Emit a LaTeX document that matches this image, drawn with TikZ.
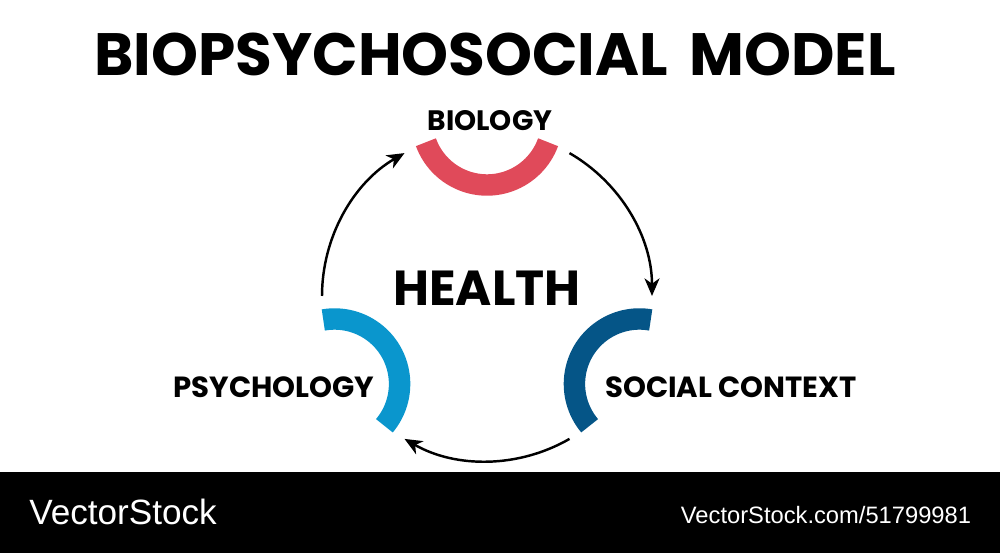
\documentclass[tikz,border=0pt]{standalone}
\usepackage{fontspec}
\setmainfont{Poppins}
\newfontfamily\stockfont{Liberation Sans}
\usetikzlibrary{arrows.meta}

\definecolor{biored}{RGB}{224,74,90}
\definecolor{psyblue}{RGB}{10,150,205}
\definecolor{socblue}{RGB}{5,85,135}

\begin{document}
\begin{tikzpicture}
[>={Stealth[length=10pt,width=8.5pt,inset=3pt]}, x=0.02cm, y=0.02cm,
 ring/.style={line width=12.2pt},
 link/.style={line width=1.4pt, ->},
 factor/.style={font=\bfseries\fontsize{16.6}{20}\selectfont}]

	\useasboundingbox (0,0) rectangle (1000,553);
	%\draw[gray,step=50] (0,0) grid (1000,553);
	\fill[black] (0,0) rectangle (1000,81);

	\coordinate (O) at (487,257);
	\coordinate (bio) at ([shift={(90:176)}]O);
	\coordinate (psy) at ([shift={(210:176)}]O);
	\coordinate (soc) at ([shift={(330:176)}]O);

	\draw[ring,biored] ([shift={(200:65)}]bio) arc[start angle=200,end angle=340,radius=65];
	\draw[ring,psyblue] ([shift={(-40:65)}]psy) arc[start angle=-40,end angle=100,radius=65];
	\draw[ring,socblue] ([shift={(80:65)}]soc) arc[start angle=80,end angle=220,radius=65];

	\coordinate (a1) at ([shift={(180:165)}]O);
	\coordinate (a2) at ([shift={(60:165)}]O);
	\coordinate (a3) at ([shift={(-60:165)}]O);

	\draw[link] (a1) arc[start angle=180,end angle=120,radius=165];
	\draw[link] (a2) arc[start angle=60,end angle=0,radius=165];
	\draw[link] (a3) arc[start angle=-60,end angle=-120,radius=165];

	\node[font=\bfseries\fontsize{34}{40}\selectfont] (title) at (495,499) 
	{BIOPSYCHOSOCIAL\hspace{5pt} MODEL};
	\node[factor,font=\bfseries\fontsize{16}{20}\selectfont] (biology) at (490,432) 
	{BIOLOGY};
	\node[font=\bfseries\fontsize{28}{32}\selectfont] (health) at (487,265) 
	{HEALTH};
	\node[factor] (psychology) at (274,166) 
	{PSYCHOLOGY};
	\node[factor] (social) at (731,166) 
	{SOCIAL CONTEXT};

	\node[white,font=\stockfont\fontsize{20}{24}\selectfont] (stock) at (123,41) 
	{VectorStock};
	\node[white,font=\stockfont\fontsize{13.5}{16}\selectfont] (url) at (826,38) 
	{VectorStock.com/51799981};
\end{tikzpicture}
\end{document}
